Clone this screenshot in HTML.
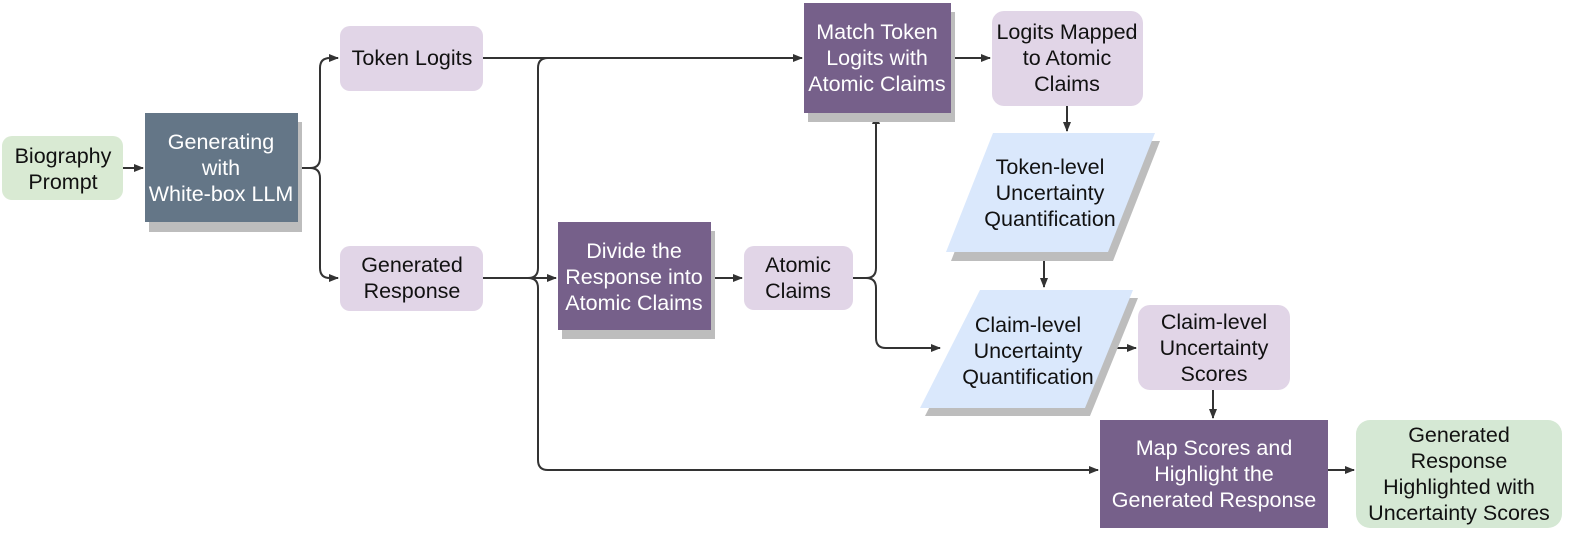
<!DOCTYPE html>
<html><head><meta charset="utf-8"><style>
html,body{margin:0;padding:0;background:#fff;}
svg text{font-family:"Liberation Sans",Arial,sans-serif;font-size:21.5px;text-anchor:middle;}
</style></head><body>
<svg width="1578" height="540" viewBox="0 0 1578 540" xmlns="http://www.w3.org/2000/svg">
<defs><marker id="a" markerWidth="10" markerHeight="8" refX="9" refY="4" orient="auto" markerUnits="userSpaceOnUse"><path d="M0,0 L10,4 L0,8 z" fill="#333"/></marker></defs>
<g fill="none" stroke="#333" stroke-width="2">
<path d="M123,168 H143" marker-end="url(#a)"/>
<path d="M298,168 H310 Q320,168 320,158 V68 Q320,58 330,58 H338" marker-end="url(#a)"/>
<path d="M310,168 Q320,168 320,178 V268 Q320,278 330,278 H338" marker-end="url(#a)"/>
<path d="M483,58 H802" marker-end="url(#a)"/>
<path d="M483,278 H556" marker-end="url(#a)"/>
<path d="M528,278 Q538,278 538,268 V68 Q538,58 548,58"/>
<path d="M528,278 Q538,278 538,288 V460 Q538,470 548,470 H1098" marker-end="url(#a)"/>
<path d="M711,278 H742" marker-end="url(#a)"/>
<path d="M853,278 H866 Q876,278 876,268 V115" marker-end="url(#a)"/>
<path d="M866,278 Q876,278 876,288 V338 Q876,348 886,348 H940" marker-end="url(#a)"/>
<path d="M951,58 H990" marker-end="url(#a)"/>
<path d="M1067,106 V131" marker-end="url(#a)"/>
<path d="M1044,252 V287" marker-end="url(#a)"/>
<path d="M1105,348 H1136" marker-end="url(#a)"/>
<path d="M1213,390 V418" marker-end="url(#a)"/>
<path d="M1328,470 H1354" marker-end="url(#a)"/>
</g>
<g fill="#bdbdbd">
<rect x="149" y="122" width="153" height="110"/>
<rect x="562" y="231" width="153" height="108"/>
<rect x="808" y="12" width="147" height="110"/>
<polygon points="998,141 1160,141 1113,261 951,261"/>
<polygon points="985,298 1138,298 1090,416 925,416"/>
</g>
<rect x="2" y="136" width="121" height="64" rx="10" fill="#d9ead3"/>
<rect x="145" y="113" width="153" height="109" fill="#647687"/>
<rect x="340" y="26" width="143" height="65" rx="10" fill="#e1d5e7"/>
<rect x="340" y="246" width="143" height="65" rx="10" fill="#e1d5e7"/>
<rect x="558" y="222" width="153" height="108" fill="#76608a"/>
<rect x="744" y="246" width="109" height="64" rx="10" fill="#e1d5e7"/>
<rect x="804" y="3" width="147" height="110" fill="#76608a"/>
<rect x="992" y="11" width="151" height="95" rx="12" fill="#e1d5e7"/>
<polygon points="993,133 1155,133 1108,252 946,252" fill="#dae8fc"/>
<polygon points="980,290 1133,290 1085,408 920,408" fill="#dae8fc"/>
<rect x="1138" y="305" width="152" height="85" rx="12" fill="#e1d5e7"/>
<rect x="1100" y="420" width="228" height="108" fill="#76608a"/>
<rect x="1356" y="420" width="206" height="108" rx="14" fill="#d5e8d4"/>
<g fill="#111">
<text x="63" y="163">Biography</text><text x="63" y="189">Prompt</text>
<text x="412" y="65">Token Logits</text>
<text x="412" y="272">Generated</text><text x="412" y="298">Response</text>
<text x="798" y="272">Atomic</text><text x="798" y="298">Claims</text>
<text x="1067" y="39">Logits Mapped</text><text x="1067" y="65">to Atomic</text><text x="1067" y="91">Claims</text>
<text x="1050" y="174">Token-level</text><text x="1050" y="200">Uncertainty</text><text x="1050" y="226">Quantification</text>
<text x="1028" y="332">Claim-level</text><text x="1028" y="358">Uncertainty</text><text x="1028" y="384">Quantification</text>
<text x="1214" y="329">Claim-level</text><text x="1214" y="355">Uncertainty</text><text x="1214" y="381">Scores</text>
<text x="1459" y="442">Generated</text><text x="1459" y="468">Response</text><text x="1459" y="494">Highlighted with</text><text x="1459" y="520">Uncertainty Scores</text>
</g>
<g fill="#fff">
<text x="221" y="149">Generating</text><text x="221" y="175">with</text><text x="221" y="201">White-box LLM</text>
<text x="634" y="258">Divide the</text><text x="634" y="284">Response into</text><text x="634" y="310">Atomic Claims</text>
<text x="877" y="39">Match Token</text><text x="877" y="65">Logits with</text><text x="877" y="91">Atomic Claims</text>
<text x="1214" y="455">Map Scores and</text><text x="1214" y="481">Highlight the</text><text x="1214" y="507">Generated Response</text>
</g>
</svg>
</body></html>
